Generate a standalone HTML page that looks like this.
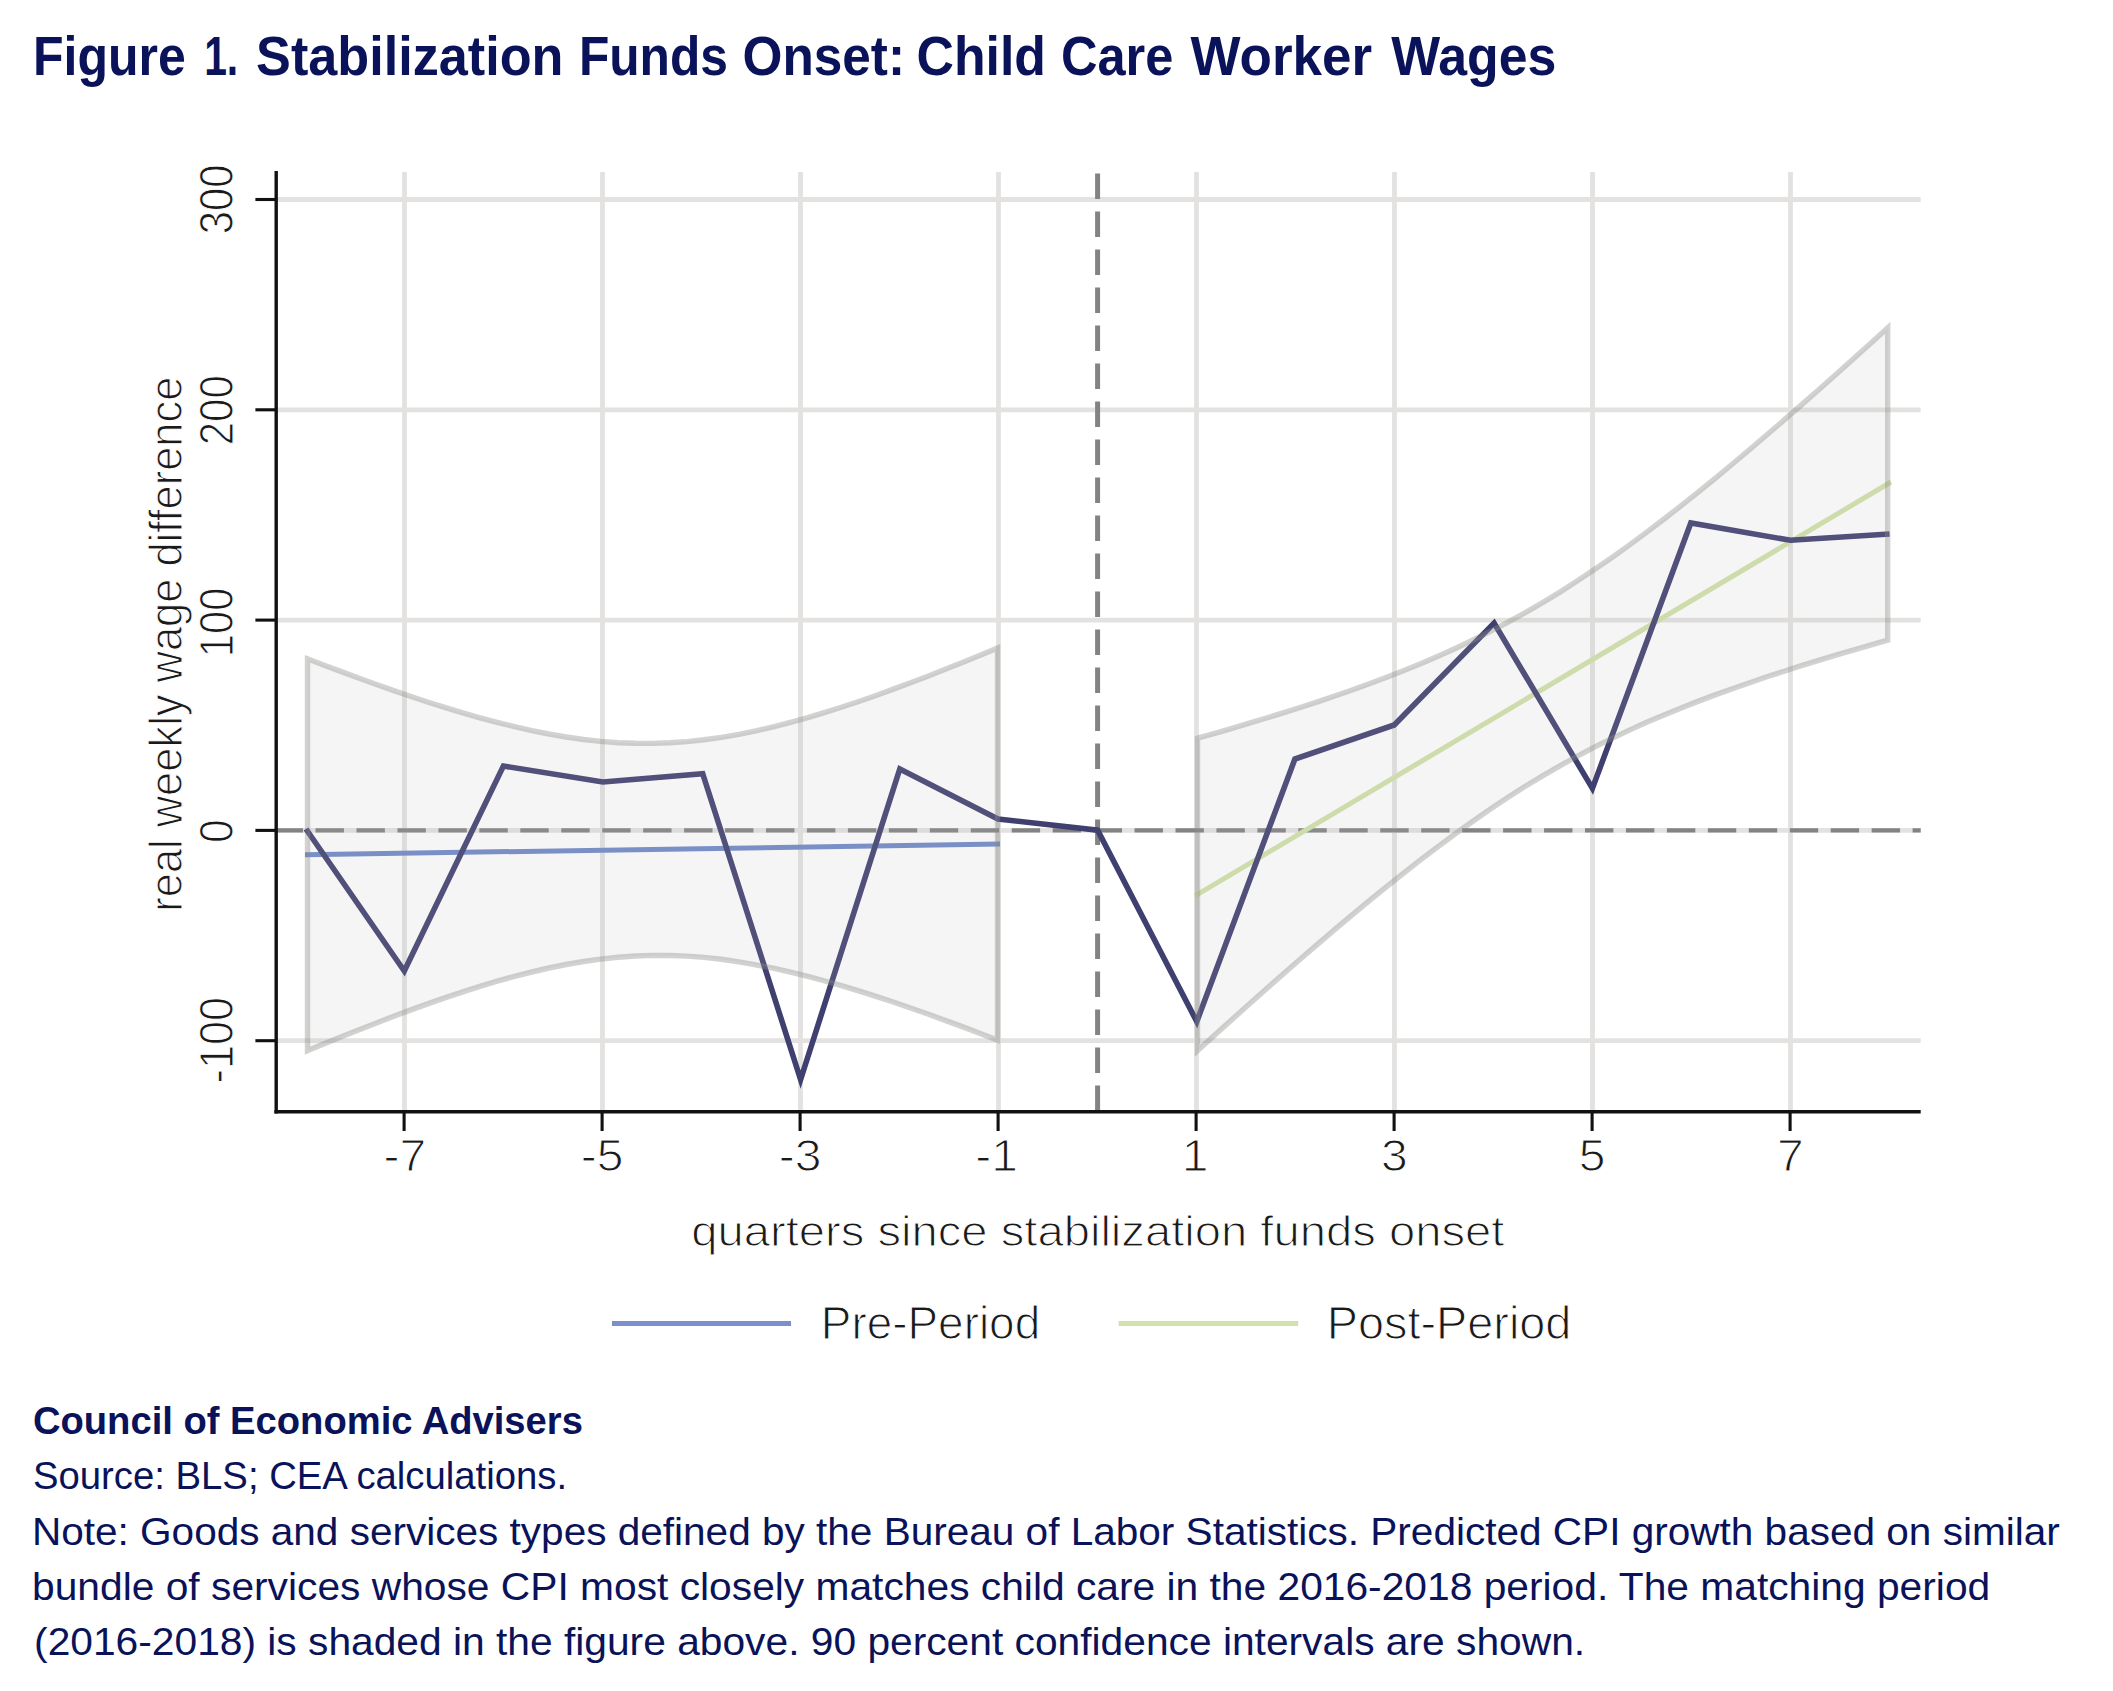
<!DOCTYPE html>
<html lang="en"><head><meta charset="utf-8"><title>Figure 1. Stabilization Funds Onset: Child Care Worker Wages</title>
<style>html,body{margin:0;padding:0;background:#fff}svg{display:block}</style></head>
<body>
<svg width="2113" height="1691" viewBox="0 0 2113 1691" font-family="'Liberation Sans', sans-serif">
<rect width="2113" height="1691" fill="#fff"/>
<g stroke="#e3e2e0" stroke-width="4.8" fill="none">
<line x1="404.5" y1="172.0" x2="404.5" y2="1111.8"/>
<line x1="602.5" y1="172.0" x2="602.5" y2="1111.8"/>
<line x1="800.5" y1="172.0" x2="800.5" y2="1111.8"/>
<line x1="998.5" y1="172.0" x2="998.5" y2="1111.8"/>
<line x1="1196.5" y1="172.0" x2="1196.5" y2="1111.8"/>
<line x1="1394.5" y1="172.0" x2="1394.5" y2="1111.8"/>
<line x1="1592.5" y1="172.0" x2="1592.5" y2="1111.8"/>
<line x1="1790.5" y1="172.0" x2="1790.5" y2="1111.8"/>
<line x1="276.2" y1="199.5" x2="1920.7" y2="199.5"/>
<line x1="276.2" y1="409.8" x2="1920.7" y2="409.8"/>
<line x1="276.2" y1="620.1" x2="1920.7" y2="620.1"/>
<line x1="276.2" y1="830.4" x2="1920.7" y2="830.4"/>
<line x1="276.2" y1="1040.7" x2="1920.7" y2="1040.7"/>
</g>
<line x1="274.6" y1="830.4" x2="1920.7" y2="830.4" stroke="#838383" stroke-width="4.4" stroke-dasharray="28.4 12.55"/>
<line x1="1097.6" y1="173.4" x2="1097.6" y2="1111.8" stroke="#838383" stroke-width="5" stroke-dasharray="25.6 12.4"/>
<line x1="305" y1="854.8" x2="1000" y2="844" stroke="#7089c8" stroke-width="5"/>
<line x1="1195" y1="895.9" x2="1891" y2="482.0" stroke="#d2e2aa" stroke-width="5"/>
<polyline fill="none" stroke="#3f3f70" stroke-width="5.6" stroke-linejoin="miter" stroke-miterlimit="6" points="306.0,829.0 404.3,971.0 503.4,766.0 602.8,782.0 702.7,773.7 800.6,1079.5 899.8,769.0 998.0,819.0 1097.6,830.1 1196.8,1021.6 1294.9,759.0 1394.2,725.0 1494.1,623.0 1592.4,788.4 1690.8,523.0 1790.5,540.3 1889.5,534.0"/>
<polygon points="307.5,658.8 324.8,665.4 342.0,671.9 359.2,678.2 376.5,684.5 393.8,690.6 411.0,696.5 428.2,702.2 445.5,707.6 462.8,712.9 480.0,717.8 497.2,722.4 514.5,726.7 531.8,730.6 549.0,734.0 566.2,737.0 583.5,739.5 600.8,741.4 618.0,742.7 635.2,743.3 652.5,743.4 669.8,742.8 687.0,741.6 704.2,739.7 721.5,737.3 738.8,734.3 756.0,730.8 773.2,726.8 790.5,722.4 807.8,717.6 825.0,712.4 842.2,707.0 859.5,701.2 876.8,695.2 894.0,688.9 911.2,682.5 928.5,675.9 945.8,669.1 963.0,662.2 980.2,655.2 997.5,648.0 997.5,1040.0 980.2,1033.4 963.0,1026.9 945.8,1020.6 928.5,1014.3 911.2,1008.2 894.0,1002.3 876.8,996.6 859.5,991.2 842.2,985.9 825.0,981.0 807.8,976.4 790.5,972.1 773.2,968.2 756.0,964.8 738.8,961.8 721.5,959.3 704.2,957.4 687.0,956.1 669.8,955.5 652.5,955.4 635.2,956.0 618.0,957.2 600.8,959.1 583.5,961.5 566.2,964.5 549.0,968.0 531.8,972.0 514.5,976.4 497.2,981.2 480.0,986.4 462.8,991.8 445.5,997.6 428.2,1003.6 411.0,1009.9 393.8,1016.3 376.5,1022.9 359.2,1029.7 342.0,1036.6 324.8,1043.6 307.5,1050.8" fill="rgba(185,185,185,0.14)" stroke="none"/>
<polygon points="307.5,658.8 324.8,665.4 342.0,671.9 359.2,678.2 376.5,684.5 393.8,690.6 411.0,696.5 428.2,702.2 445.5,707.6 462.8,712.9 480.0,717.8 497.2,722.4 514.5,726.7 531.8,730.6 549.0,734.0 566.2,737.0 583.5,739.5 600.8,741.4 618.0,742.7 635.2,743.3 652.5,743.4 669.8,742.8 687.0,741.6 704.2,739.7 721.5,737.3 738.8,734.3 756.0,730.8 773.2,726.8 790.5,722.4 807.8,717.6 825.0,712.4 842.2,707.0 859.5,701.2 876.8,695.2 894.0,688.9 911.2,682.5 928.5,675.9 945.8,669.1 963.0,662.2 980.2,655.2 997.5,648.0 997.5,1040.0 980.2,1033.4 963.0,1026.9 945.8,1020.6 928.5,1014.3 911.2,1008.2 894.0,1002.3 876.8,996.6 859.5,991.2 842.2,985.9 825.0,981.0 807.8,976.4 790.5,972.1 773.2,968.2 756.0,964.8 738.8,961.8 721.5,959.3 704.2,957.4 687.0,956.1 669.8,955.5 652.5,955.4 635.2,956.0 618.0,957.2 600.8,959.1 583.5,961.5 566.2,964.5 549.0,968.0 531.8,972.0 514.5,976.4 497.2,981.2 480.0,986.4 462.8,991.8 445.5,997.6 428.2,1003.6 411.0,1009.9 393.8,1016.3 376.5,1022.9 359.2,1029.7 342.0,1036.6 324.8,1043.6 307.5,1050.8" fill="none" stroke="rgba(140,140,136,0.39)" stroke-width="5.4" stroke-linejoin="miter"/>
<polygon points="1197.5,738.2 1214.8,733.3 1232.0,728.3 1249.3,723.2 1266.5,718.0 1283.8,712.7 1301.0,707.2 1318.3,701.6 1335.5,695.8 1352.8,689.7 1370.0,683.5 1387.3,677.0 1404.6,670.2 1421.8,663.2 1439.1,655.8 1456.3,648.0 1473.6,639.8 1490.8,631.2 1508.1,622.1 1525.3,612.6 1542.6,602.6 1559.9,592.1 1577.1,581.1 1594.4,569.6 1611.6,557.7 1628.9,545.4 1646.1,532.6 1663.4,519.5 1680.6,506.1 1697.9,492.3 1715.2,478.3 1732.4,464.0 1749.7,449.5 1766.9,434.8 1784.2,419.9 1801.4,404.9 1818.7,389.7 1835.9,374.4 1853.2,358.9 1870.4,343.4 1887.7,327.8 1887.7,640.2 1870.4,645.1 1853.2,650.1 1835.9,655.2 1818.7,660.4 1801.4,665.7 1784.2,671.2 1766.9,676.8 1749.7,682.7 1732.4,688.7 1715.2,694.9 1697.9,701.4 1680.6,708.2 1663.4,715.2 1646.1,722.6 1628.9,730.4 1611.6,738.6 1594.4,747.2 1577.1,756.3 1559.9,765.8 1542.6,775.8 1525.3,786.3 1508.1,797.3 1490.8,808.8 1473.6,820.7 1456.3,833.0 1439.1,845.8 1421.8,858.9 1404.6,872.3 1387.3,886.1 1370.0,900.1 1352.8,914.4 1335.5,928.9 1318.3,943.6 1301.0,958.5 1283.8,973.5 1266.5,988.7 1249.3,1004.0 1232.0,1019.5 1214.8,1035.0 1197.5,1050.6" fill="rgba(185,185,185,0.14)" stroke="none"/>
<polygon points="1197.5,738.2 1214.8,733.3 1232.0,728.3 1249.3,723.2 1266.5,718.0 1283.8,712.7 1301.0,707.2 1318.3,701.6 1335.5,695.8 1352.8,689.7 1370.0,683.5 1387.3,677.0 1404.6,670.2 1421.8,663.2 1439.1,655.8 1456.3,648.0 1473.6,639.8 1490.8,631.2 1508.1,622.1 1525.3,612.6 1542.6,602.6 1559.9,592.1 1577.1,581.1 1594.4,569.6 1611.6,557.7 1628.9,545.4 1646.1,532.6 1663.4,519.5 1680.6,506.1 1697.9,492.3 1715.2,478.3 1732.4,464.0 1749.7,449.5 1766.9,434.8 1784.2,419.9 1801.4,404.9 1818.7,389.7 1835.9,374.4 1853.2,358.9 1870.4,343.4 1887.7,327.8 1887.7,640.2 1870.4,645.1 1853.2,650.1 1835.9,655.2 1818.7,660.4 1801.4,665.7 1784.2,671.2 1766.9,676.8 1749.7,682.7 1732.4,688.7 1715.2,694.9 1697.9,701.4 1680.6,708.2 1663.4,715.2 1646.1,722.6 1628.9,730.4 1611.6,738.6 1594.4,747.2 1577.1,756.3 1559.9,765.8 1542.6,775.8 1525.3,786.3 1508.1,797.3 1490.8,808.8 1473.6,820.7 1456.3,833.0 1439.1,845.8 1421.8,858.9 1404.6,872.3 1387.3,886.1 1370.0,900.1 1352.8,914.4 1335.5,928.9 1318.3,943.6 1301.0,958.5 1283.8,973.5 1266.5,988.7 1249.3,1004.0 1232.0,1019.5 1214.8,1035.0 1197.5,1050.6" fill="none" stroke="rgba(140,140,136,0.39)" stroke-width="5.4" stroke-linejoin="miter"/>
<g stroke="#111" stroke-width="3.4" fill="none">
<line x1="276.2" y1="171.0" x2="276.2" y2="1113.6"/>
<line x1="274.4" y1="1111.8" x2="1920.7" y2="1111.8"/>
<line x1="404.1" y1="1111.8" x2="404.1" y2="1131" stroke-width="3.1"/>
<line x1="602.1" y1="1111.8" x2="602.1" y2="1131" stroke-width="3.1"/>
<line x1="800.1" y1="1111.8" x2="800.1" y2="1131" stroke-width="3.1"/>
<line x1="998.1" y1="1111.8" x2="998.1" y2="1131" stroke-width="3.1"/>
<line x1="1196.1" y1="1111.8" x2="1196.1" y2="1131" stroke-width="3.1"/>
<line x1="1394.1" y1="1111.8" x2="1394.1" y2="1131" stroke-width="3.1"/>
<line x1="1592.1" y1="1111.8" x2="1592.1" y2="1131" stroke-width="3.1"/>
<line x1="1790.1" y1="1111.8" x2="1790.1" y2="1131" stroke-width="3.1"/>
<line x1="255.4" y1="199.5" x2="276.2" y2="199.5" stroke-width="3.1"/>
<line x1="255.4" y1="409.8" x2="276.2" y2="409.8" stroke-width="3.1"/>
<line x1="255.4" y1="620.1" x2="276.2" y2="620.1" stroke-width="3.1"/>
<line x1="255.4" y1="830.4" x2="276.2" y2="830.4" stroke-width="3.1"/>
<line x1="255.4" y1="1040.7" x2="276.2" y2="1040.7" stroke-width="3.1"/>
</g>
<line x1="612" y1="1323.5" x2="791" y2="1323.5" stroke="#7990cc" stroke-width="5.2"/>
<line x1="1118.6" y1="1323.5" x2="1298.2" y2="1323.5" stroke="#d2e2aa" stroke-width="5.2"/>
<g font-size="54.80" font-weight="bold" fill="#0a1259">
<text transform="translate(32.97,75.30) scale(0.9130,1)">Figure</text>
<text transform="translate(204.15,75.30) scale(0.7454,1)">1.</text>
<text transform="translate(256.08,75.30) scale(0.9527,1)">Stabilization</text>
<text transform="translate(578.89,75.30) scale(0.9073,1)">Funds</text>
<text transform="translate(742.50,75.30) scale(0.9362,1)">Onset:</text>
<text transform="translate(916.58,75.30) scale(0.9450,1)">Child</text>
<text transform="translate(1060.92,75.30) scale(0.9228,1)">Care</text>
<text transform="translate(1190.50,75.30) scale(0.9672,1)">Worker</text>
<text transform="translate(1391.30,75.30) scale(0.9457,1)">Wages</text>
</g>
<text transform="translate(32.91,1433.70) scale(1.0063,1)" font-size="37.94" font-weight="bold" fill="#0a1259">Council of Economic Advisers</text>
<text transform="translate(32.90,1489.40) scale(1.0096,1)" font-size="37.94" fill="#0a1259">Source: BLS; CEA calculations.</text>
<text transform="translate(31.93,1544.50) scale(1.0689,1)" font-size="37.94" fill="#0a1259">Note: Goods and services types defined by the Bureau of Labor Statistics. Predicted CPI growth based on similar</text>
<text transform="translate(32.05,1599.70) scale(1.0742,1)" font-size="37.94" fill="#0a1259">bundle of services whose CPI most closely matches child care in the 2016-2018 period. The matching period</text>
<text transform="translate(34.09,1654.90) scale(1.0736,1)" font-size="37.94" fill="#0a1259">(2016-2018) is shaded in the figure above. 90 percent confidence intervals are shown.</text>
<text transform="translate(691.22,1245.50) scale(1.1128,1)" font-size="42.42" fill="#1a1a1a" stroke="#fff" stroke-width="1.1">quarters since stabilization funds onset</text>
<text transform="translate(820.81,1339.10) scale(1.0028,1)" font-size="45.78" fill="#1a1a1a" stroke="#fff" stroke-width="1.1">Pre-Period</text>
<text transform="translate(1326.74,1339.10) scale(1.0233,1)" font-size="45.78" fill="#1a1a1a" stroke="#fff" stroke-width="1.1">Post-Period</text>
<text transform="translate(404.75,1170.8) scale(1.09,1)" font-size="44.10" text-anchor="middle" fill="#1a1a1a" stroke="#fff" stroke-width="1.1">-7</text>
<text transform="translate(602.00,1170.8) scale(1.09,1)" font-size="44.10" text-anchor="middle" fill="#1a1a1a" stroke="#fff" stroke-width="1.1">-5</text>
<text transform="translate(800.20,1170.8) scale(1.09,1)" font-size="44.10" text-anchor="middle" fill="#1a1a1a" stroke="#fff" stroke-width="1.1">-3</text>
<text transform="translate(996.50,1170.8) scale(1.09,1)" font-size="44.10" text-anchor="middle" fill="#1a1a1a" stroke="#fff" stroke-width="1.1">-1</text>
<text transform="translate(1195.10,1170.8) scale(1.09,1)" font-size="44.10" text-anchor="middle" fill="#1a1a1a" stroke="#fff" stroke-width="1.1">1</text>
<text transform="translate(1394.45,1170.8) scale(1.09,1)" font-size="44.10" text-anchor="middle" fill="#1a1a1a" stroke="#fff" stroke-width="1.1">3</text>
<text transform="translate(1592.05,1170.8) scale(1.09,1)" font-size="44.10" text-anchor="middle" fill="#1a1a1a" stroke="#fff" stroke-width="1.1">5</text>
<text transform="translate(1790.25,1170.8) scale(1.09,1)" font-size="44.10" text-anchor="middle" fill="#1a1a1a" stroke="#fff" stroke-width="1.1">7</text>
<text transform="translate(181.50,911.72) rotate(-90) scale(0.9286,1)" font-size="46.78" fill="#1a1a1a" stroke="#fff" stroke-width="1.1">real weekly wage difference</text>
<text transform="translate(233.30,234.31) rotate(-90) scale(0.8643,1)" font-size="48.36" fill="#1a1a1a" stroke="#fff" stroke-width="1.1">300</text>
<text transform="translate(233.30,445.27) rotate(-90) scale(0.8676,1)" font-size="48.36" fill="#1a1a1a" stroke="#fff" stroke-width="1.1">200</text>
<text transform="translate(233.30,657.21) rotate(-90) scale(0.8631,1)" font-size="48.36" fill="#1a1a1a" stroke="#fff" stroke-width="1.1">100</text>
<text transform="translate(233.30,843.03) rotate(-90) scale(0.8808,1)" font-size="48.36" fill="#1a1a1a" stroke="#fff" stroke-width="1.1">0</text>
<text transform="translate(233.30,1083.45) rotate(-90) scale(0.8939,1)" font-size="48.36" fill="#1a1a1a" stroke="#fff" stroke-width="1.1">-100</text>
</svg>
</body></html>
